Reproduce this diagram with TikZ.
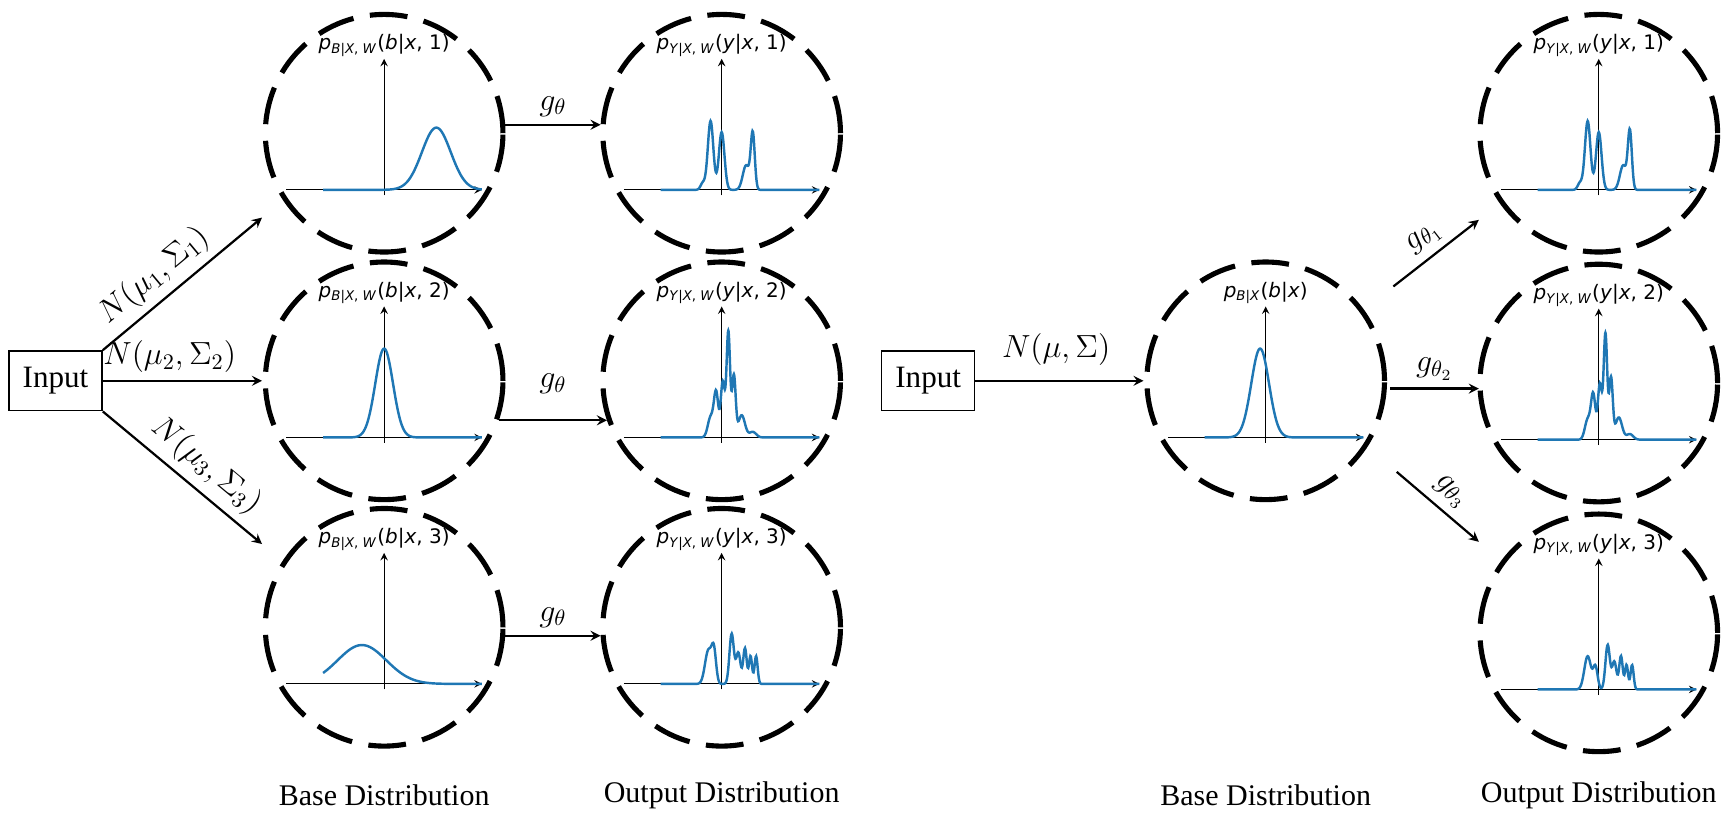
\documentclass[tikz,border=0pt]{standalone}
\usepackage{fontspec}
\setmainfont{Liberation Serif}
\newfontfamily\dv{DejaVu Sans}
\begin{document}
\begin{tikzpicture}[x=0.5pt,y=-0.5pt,
  dc/.style={circle,draw,line width=2.3pt,dash pattern=on 17pt off 7.5pt,minimum size=107pt,inner sep=0pt},
  box/.style={draw,line width=0.6pt,minimum width=42pt,minimum height=27pt,inner sep=1pt,font=\fontsize{14}{14}\selectfont},
  arr/.style={->,line width=1pt,>=stealth},
  lab/.style={font=\fontsize{14}{14}\selectfont},
  captxt/.style={font=\fontsize{13.5}{13.5}\selectfont},
  pl/.style={line width=1.1pt,color={rgb,255:red,31;green,119;blue,180},samples=300,smooth},
  declare function={G(\x,\m,\s,\h)=\h*exp(-((\x-\m)^2)/(2*\s*\s));}
]
\useasboundingbox (0,0) rectangle (1560,732);
\newcommand\dist[5]{% name, cx, cy, label, expr
  \node[dc] (#1) at (#2,#3) {};
  \begin{scope}[shift={(#2,#3+51)}]
    \draw[->,line width=0.5pt,>=stealth] (-88,0) -- (88,0);
    \draw[->,line width=0.5pt,>=stealth] (0,5) -- (0,-118);
    \node[font=\dv\fontsize{9}{9}\selectfont,inner sep=0pt] at (0,-130) {#4};
    \draw[pl] plot[domain=-55:88] (\x,{-(#5)});
  \end{scope}}
\newcommand\pb[1]{\textit{p}\textsubscript{\textit{B}|\textit{X}, \textit{W}}(\textit{b}|\textit{x}, #1)}
\newcommand\py[1]{\textit{p}\textsubscript{\textit{Y}|\textit{X}, \textit{W}}(\textit{y}|\textit{x}, #1)}
% left
\node[box] (in1) at (50,343) {Input};
\dist{b1}{346}{120}{\pb{1}}{G(\x,47,13,56)}
\dist{b2}{346}{343}{\pb{2}}{G(\x,0,8,80)}
\dist{b3}{346}{565}{\pb{3}}{G(\x,-20,22,35)}
\dist{o1}{650}{120}{\py{1}}{G(\x,-10,2.5,62)+G(\x,0,2.5,52)+G(\x,-17,2,6)+G(\x,22,3,22)+G(\x,28,1.8,50)}
\dist{o2}{650}{343}{\py{2}}{G(\x,-10,2.5,18)+G(\x,-5,2,40)+G(\x,1,1.8,50)+G(\x,6,1.6,95)+G(\x,11,1.6,55)+G(\x,18,3,20)+G(\x,28,3,5)}
\dist{o3}{650}{565}{\py{3}}{G(\x,-12,3,30)+G(\x,-7,2,28)+G(\x,9,2,45)+G(\x,15,2,28)+G(\x,21,1.6,32)+G(\x,26,1.4,25)+G(\x,31,1.4,25)}
\coordinate (t1) at (236,196);
\coordinate (t2) at (236,343);
\coordinate (t3) at (236,490);
\draw[arr] (in1.north east) -- node[lab,sloped,above,pos=0.42] {$N(\mu_1,\Sigma_1)$} (t1);
\draw[arr] (in1.east) -- node[lab,above,pos=0.42] {$N(\mu_2,\Sigma_2)$} (t2);
\draw[arr] (in1.south east) -- node[lab,sloped,above,pos=0.55] {$N(\mu_3,\Sigma_3)$} (t3);
\draw[arr] (b1.4) -- node[lab,above] {$g_\theta$} (o1.176);
\draw[arr] (b2.-19) -- node[lab,above=8pt] {$g_\theta$} (o2.199);
\draw[arr] (b3.-4) -- node[lab,above] {$g_\theta$} (o3.184);
% right
\node[box] (in2) at (836,343) {Input};
\dist{rb}{1140}{343}{\textit{p}\textsubscript{\textit{B}|\textit{X}}(\textit{b}|\textit{x})}{G(\x,-5,8,80)}
\dist{r1}{1440}{120}{\py{1}}{G(\x,-10,2.5,62)+G(\x,0,2.5,52)+G(\x,-17,2,6)+G(\x,22,3,22)+G(\x,28,1.8,52)}
\dist{r2}{1440}{345}{\py{2}}{G(\x,-10,2.5,18)+G(\x,-5,2,40)+G(\x,1,1.8,50)+G(\x,6,1.6,95)+G(\x,11,1.6,55)+G(\x,18,3,20)+G(\x,28,3,5)}
\dist{r3}{1440}{570}{\py{3}}{G(\x,-10,3,30)+G(\x,-3,2,20)+G(\x,8,2,40)+G(\x,14,2,25)+G(\x,20,1.6,30)+G(\x,25,1.4,22)+G(\x,30,1.4,22)}
\coordinate (rt) at (1030,343);
\draw[arr] (in2.east) -- node[lab,above=3pt,pos=0.48] {$N(\mu,\Sigma)$} (rt);
\coordinate (s1) at (1255,258); \coordinate (e1) at (1332,198);
\coordinate (s2) at (1252,350); \coordinate (e2) at (1332,350);
\coordinate (s3) at (1258,425); \coordinate (e3) at (1332,488);
\draw[arr] (s1) -- node[lab,sloped,above] {$g_{\theta_1}$} (e1);
\draw[arr] (s2) -- node[lab,above] {$g_{\theta_2}$} (e2);
\draw[arr] (s3) -- node[lab,sloped,above] {$g_{\theta_3}$} (e3);
% captions
\node[captxt] (c1) at (346,716) {Base Distribution};
\node[captxt] (c2) at (650,716) {Output Distribution};
\node[captxt] (c3) at (1140,716) {Base Distribution};
\node[captxt] (c4) at (1440,716) {Output Distribution};
\end{tikzpicture}
\end{document}
